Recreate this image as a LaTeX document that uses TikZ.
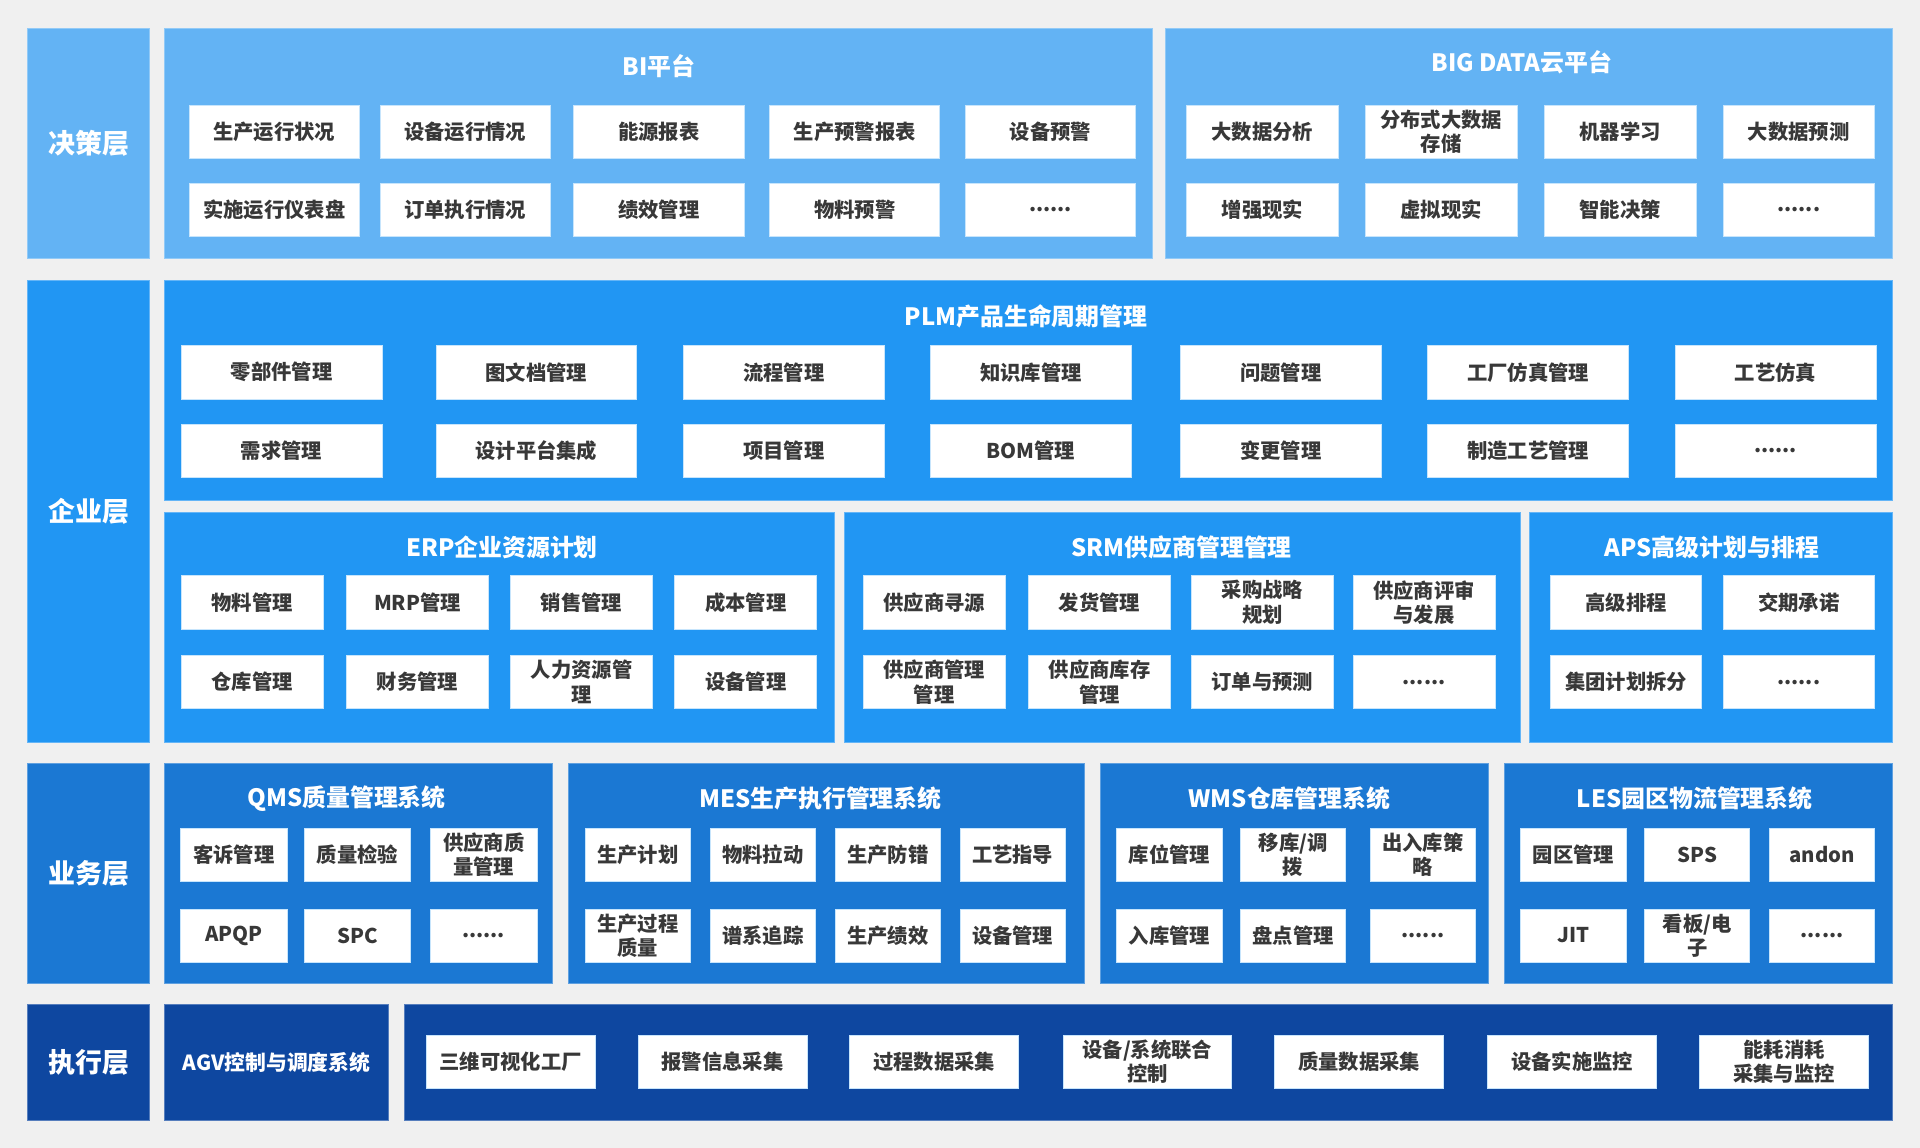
\documentclass[tikz,border=0pt]{standalone}
\usepackage{fontspec}
\setmainfont{Noto Sans CJK SC}
\usetikzlibrary{positioning}
\definecolor{bgGray}{HTML}{F0F0F0}
\definecolor{decBlue}{HTML}{63B3F4}
\definecolor{entBlue}{HTML}{2196F3}
\definecolor{bizBlue}{HTML}{1B78D3}
\definecolor{exeBlue}{HTML}{0E47A0}
\definecolor{modText}{HTML}{383838}
\newcommand{\moredots}{......}

\begin{document}
\begin{tikzpicture}
  [x=1pt, y=-1pt,
   panelbox/.style={rectangle, anchor=north west, inner sep=0pt, fill=#1, draw=white!30!#1, line width=0.8pt},
   layername/.style={text=white, font=\fontsize{22}{26}\selectfont\bfseries},
   paneltitle/.style={text=white, font=\fontsize{19.5}{24}\selectfont\bfseries},
   modbox/.style={rectangle, fill=white, draw=white!75!entBlue, line width=0.6pt, text=modText,
                  font=\fontsize{16.6}{20}\selectfont\bfseries, align=center, inner sep=0pt,
                  minimum width=#1, minimum height=43.5pt}]

  \fill[bgGray] (0,0) rectangle (1568,937.5);

  % layer columns
  \node[panelbox=decBlue, minimum width=100pt, minimum height=188pt] (decL) at (22,23) {};
  \node[panelbox=entBlue, minimum width=100pt, minimum height=377pt] (entL) at (22,229) {};
  \node[panelbox=bizBlue, minimum width=100pt, minimum height=180pt] (bizL) at (22,623) {};
  \node[panelbox=exeBlue, minimum width=100pt, minimum height=95pt] (exeL) at (22,820) {};
  \node[layername] at (decL.center) {决策层};
  \node[layername] at (entL.center) {企业层};
  \node[layername] at (bizL.center) {业务层};
  \node[layername] at (exeL.center) {执行层};

  % 决策层
  \node[panelbox=decBlue, minimum width=807pt, minimum height=188pt] (bi) at (134,23) {};
  \node[panelbox=decBlue, minimum width=594pt, minimum height=188pt] (bigdata) at (951,23) {};
  \node[paneltitle] (biT) at (538,54) {BI平台};
  \node[paneltitle] (bigdataT) at (1243,51) {BIG DATA云平台};
  \foreach \x/\t [count=\i] in {224/生产运行状况, 380/设备运行情况, 538/能源报表, 698/生产预警报表, 858/设备预警}
    \node[modbox=139pt] (bia\i) at (\x,107.5) {\t};
  \foreach \x/\t [count=\i] in {224/实施运行仪表盘, 380/订单执行情况, 538/绩效管理, 698/物料预警, 858/\moredots}
    \node[modbox=139pt] (bib\i) at (\x,171.5) {\t};
  \foreach \x/\t [count=\i] in {1031/大数据分析, 1177/{分布式大数据\\存储}, 1323/机器学习, 1469/大数据预测}
    \node[modbox=124pt] (bda\i) at (\x,107.5) {\t};
  \foreach \x/\t [count=\i] in {1031/增强现实, 1177/虚拟现实, 1323/智能决策, 1469/\moredots}
    \node[modbox=124pt] (bdb\i) at (\x,171.5) {\t};

  % 企业层
  \node[panelbox=entBlue, minimum width=1411pt, minimum height=179pt] (plm) at (134,229) {};
  \node[paneltitle] (plmT) at (838,258) {PLM产品生命周期管理};
  \foreach \x/\t [count=\i] in {230/零部件管理, 438/图文档管理, 640/流程管理, 842/知识库管理, 1046/问题管理, 1248/工厂仿真管理, 1450/工艺仿真}
    \node[modbox=164pt] (plma\i) at (\x,304) {\t};
  \foreach \x/\t [count=\i] in {230/需求管理, 438/设计平台集成, 640/项目管理, 842/BOM管理, 1046/变更管理, 1248/制造工艺管理, 1450/\moredots}
    \node[modbox=164pt] (plmb\i) at (\x,368) {\t};

  \node[panelbox=entBlue, minimum width=547pt, minimum height=188pt] (erp) at (134,418) {};
  \node[panelbox=entBlue, minimum width=552pt, minimum height=188pt] (srm) at (689,418) {};
  \node[panelbox=entBlue, minimum width=296pt, minimum height=188pt] (aps) at (1249,418) {};
  \node[paneltitle] (erpT) at (410,447) {ERP企业资源计划};
  \node[paneltitle] (srmT) at (965,447) {SRM供应商管理管理};
  \node[paneltitle] (apsT) at (1398,447) {APS高级计划与排程};
  \foreach \x/\t [count=\i] in {206/物料管理, 341/MRP管理, 475/销售管理, 609/成本管理}
    \node[modbox=116pt] (erpa\i) at (\x,492) {\t};
  \foreach \x/\t [count=\i] in {206/仓库管理, 341/财务管理, 475/{人力资源管\\理}, 609/设备管理}
    \node[modbox=116pt] (erpb\i) at (\x,557) {\t};
  \foreach \x/\t [count=\i] in {763/供应商寻源, 898/发货管理, 1031/{采购战略\\规划}, 1163/{供应商评审\\与发展}}
    \node[modbox=116pt] (srma\i) at (\x,492) {\t};
  \foreach \x/\t [count=\i] in {763/{供应商管理\\管理}, 898/{供应商库存\\管理}, 1031/订单与预测, 1163/\moredots}
    \node[modbox=116pt] (srmb\i) at (\x,557) {\t};
  \foreach \x/\t [count=\i] in {1328/高级排程, 1469/交期承诺}
    \node[modbox=123pt] (apsa\i) at (\x,492) {\t};
  \foreach \x/\t [count=\i] in {1328/集团计划拆分, 1469/\moredots}
    \node[modbox=123pt] (apsb\i) at (\x,557) {\t};

  % 业务层
  \node[panelbox=bizBlue, minimum width=317pt, minimum height=180pt] (qms) at (134,623) {};
  \node[panelbox=bizBlue, minimum width=421pt, minimum height=180pt] (mes) at (464,623) {};
  \node[panelbox=bizBlue, minimum width=317pt, minimum height=180pt] (wms) at (898,623) {};
  \node[panelbox=bizBlue, minimum width=317pt, minimum height=180pt] (les) at (1228,623) {};
  \node[paneltitle] (qmsT) at (283,652) {QMS质量管理系统};
  \node[paneltitle] (mesT) at (670,652) {MES生产执行管理系统};
  \node[paneltitle] (wmsT) at (1053,652) {WMS仓库管理系统};
  \node[paneltitle] (lesT) at (1384,652) {LES园区物流管理系统};
  \foreach \x/\t [count=\i] in {191/客诉管理, 292/质量检验, 395/{供应商质\\量管理}}
    \node[modbox=87pt] (qmsa\i) at (\x,698) {\t};
  \foreach \x/\t [count=\i] in {191/APQP, 292/SPC, 395/\moredots}
    \node[modbox=87pt] (qmsb\i) at (\x,764) {\t};
  \foreach \x/\t [count=\i] in {521/生产计划, 623/物料拉动, 725/生产防错, 827/工艺指导}
    \node[modbox=86pt] (mesa\i) at (\x,698) {\t};
  \foreach \x/\t [count=\i] in {521/{生产过程\\质量}, 623/谱系追踪, 725/生产绩效, 827/设备管理}
    \node[modbox=86pt] (mesb\i) at (\x,764) {\t};
  \foreach \x/\t [count=\i] in {955/库位管理, 1056/{移库/调\\拨}, 1162/{出入库策\\略}}
    \node[modbox=86pt] (wmsa\i) at (\x,698) {\t};
  \foreach \x/\t [count=\i] in {955/入库管理, 1056/盘点管理, 1162/\moredots}
    \node[modbox=86pt] (wmsb\i) at (\x,764) {\t};
  \foreach \x/\t [count=\i] in {1285/园区管理, 1386/SPS, 1488/andon}
    \node[modbox=86pt] (lesa\i) at (\x,698) {\t};
  \foreach \x/\t [count=\i] in {1285/JIT, 1386/{看板/电\\子}, 1488/\moredots}
    \node[modbox=86pt] (lesb\i) at (\x,764) {\t};

  % 执行层
  \node[panelbox=exeBlue, minimum width=183pt, minimum height=95pt] (agv) at (134,820) {};
  \node[panelbox=exeBlue, minimum width=1215pt, minimum height=95pt] (exe) at (330,820) {};
  \node[paneltitle, font=\fontsize{17}{20}\selectfont\bfseries] (agvT) at (agv.center) {AGV控制与调度系统};
  \foreach \x/\t [count=\i] in {417/三维可视化工厂, 590/报警信息采集, 763/过程数据采集, 937/{设备/系统联合\\控制}, 1110/质量数据采集, 1284/设备实施监控, 1457/{能耗消耗\\采集与监控}}
    \node[modbox=138pt] (exe\i) at (\x,867) {\t};

\end{tikzpicture}
\end{document}
